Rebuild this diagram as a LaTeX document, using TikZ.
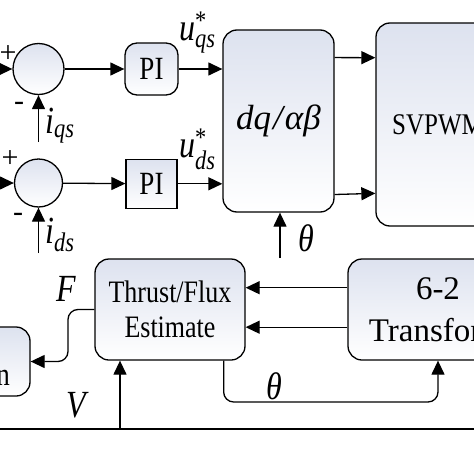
\documentclass[tikz,border=0pt]{standalone}
\usepackage{amsmath}
\usepackage{graphicx}
\usepackage{fontspec}
\setmainfont{Liberation Serif}
\usetikzlibrary{arrows.meta, positioning, calc}
\definecolor{boxtop}{HTML}{DDE2EF}
\newcommand{\tallt}[1]{\scalebox{1}[1.2]{#1}}
\tikzstyle{block} = [rectangle, draw, line width=1.3pt, rounded corners=14pt, top color=boxtop, bottom color=white, align=center, inner sep=0pt]
\tikzstyle{sumnode} = [circle, draw, line width=1.3pt, top color=boxtop, bottom color=white, inner sep=0pt]
\tikzstyle{arrow} = [line width=1.3pt, -{Triangle[length=14pt, width=13pt]}]
\tikzstyle{wire} = [line width=1.3pt]
\tikzstyle{sign} = [font=\fontsize{30}{34}\selectfont, inner sep=0pt]
\tikzstyle{varlabel} = [font=\fontsize{32}{36}\selectfont, inner sep=0pt]

\begin{document}
\begin{tikzpicture}[x=1pt, y=-1pt]

        \useasboundingbox (0,0) rectangle (474,474);
        \clip (0,0) rectangle (474,474);

        % Summing junctions and PI controllers
        \node (sumq) [sumnode, minimum size=51pt] at (38.5,69) {};
        \node (sumd) [sumnode, minimum size=48pt] at (38.5,183) {};
        \node (piq) [block, rounded corners=12pt, minimum width=53pt, minimum height=52pt, font=\fontsize{27}{31}\selectfont] at (151.5,69) {\tallt{PI}};
        \node (pid) [block, sharp corners, minimum width=51pt, minimum height=49pt, below=63pt of piq, font=\fontsize{27}{31}\selectfont] {\tallt{PI}};

        % Transformation and modulation
        \node (dqab) [block, minimum width=111pt, minimum height=182pt, font=\fontsize{35}{38}\selectfont] at (278.5,121) {\itshape dq\kern2pt/\kern2ptαβ};
        \node (svpwm) [block, minimum width=124pt, minimum height=203pt, font=\fontsize{25}{30}\selectfont] at (438,124.5) {\tallt{SVPWM}};

        % Estimator row
        \node (thrust) [block, minimum width=150pt, minimum height=101pt, font=\fontsize{26}{35}\selectfont] at (170,309.5) {\tallt{Thrust/Flux}\\\tallt{Estimate}};
        \node (trans62) [block, minimum width=180pt, minimum height=101pt, font=\fontsize{33}{42}\selectfont] at (438,309.5) {6-2\\Transform};
        \node (mover) [block, minimum width=116pt, minimum height=69pt] at (-28,361.5) {};
        \node (moverlab) [anchor=base east, font=\fontsize{27}{30}\selectfont, inner sep=0pt] at (10,385) {\tallt{n}};

        % Free ends
        \coordinate (inq) at (-20,69);
        \coordinate (ind) at (-20,183);
        \coordinate (iqsin) at (38.5,142);
        \coordinate (idsin) at (38.5,253);
        \coordinate (thdq) at (280,258);
        \coordinate (thout) at ([xshift=-22pt]thrust.south east);
        \coordinate (loopy) at (0,402);
        \coordinate (busl) at (-10,429);
        \coordinate (busr) at (484,429);
        \coordinate (vtap) at (120,429);
        \coordinate (fbend) at (68,0);

        % Signs and signal labels
        \node (plusq) [sign] at (8,54) {+};
        \node (minusq) [sign] at (19,106) {-};
        \node (plusd) [sign] at (10,159) {+};
        \node (minusd) [sign] at (18,217) {-};
        \node (iqslab) [varlabel, anchor=base west] at (45,133) {\tallt{$\textit{i}_{\textit{qs}}$}};
        \node (idslab) [varlabel, anchor=base west] at (45,243) {\tallt{$\textit{i}_{\textit{ds}}$}};
        \node (uqslab) [varlabel, anchor=base west] at (179,40) {\tallt{$\textit{u}^{\text{*}}_{\textit{qs}}$}};
        \node (udslab) [varlabel, anchor=base west] at (179,157) {\tallt{$\textit{u}^{\text{*}}_{\textit{ds}}$}};
        \node (thdqlab) [varlabel] at (306,238) {\tallt{\itshape θ}};
        \node (thlooplab) [varlabel] at (274,386) {\tallt{\itshape θ}};
        \node (flab) [varlabel] at (66,289) {\tallt{\itshape F}};
        \node (vlab) [varlabel] at (76,405) {\tallt{\itshape V}};

        % Arrows - current loops
        \draw [arrow] (inq) -- (sumq);
        \draw [arrow] (ind) -- (sumd);
        \draw [arrow] (iqsin) -- (sumq);
        \draw [arrow] (idsin) -- (sumd);
        \draw [arrow] (sumq) -- (piq);
        \draw [arrow] (sumd) -- (pid);
        \draw [arrow] (piq) -- (piq -| dqab.west);
        \draw [arrow] (pid) -- (pid -| dqab.west);

        % Arrows - dq/alpha-beta to SVPWM
        \draw [arrow] ($(dqab.north east)!0.154!(dqab.south east)$) -- ($(svpwm.north west)!0.173!(svpwm.south west)$);
        \draw [arrow] ($(dqab.north east)!0.901!(dqab.south east)$) -- ($(svpwm.north west)!0.837!(svpwm.south west)$);
        \draw [arrow] (thdq) -- (thdq |- dqab.south);

        % Arrows - estimator
        \draw [arrow] ($(trans62.north west)!0.287!(trans62.south west)$) -- ($(thrust.north east)!0.287!(thrust.south east)$);
        \draw [arrow] ($(trans62.north west)!0.673!(trans62.south west)$) -- ($(thrust.north east)!0.673!(thrust.south east)$);
        \draw [arrow, rounded corners=10pt] (thout) |- (loopy -| trans62.south) -- (trans62.south); % theta feedback
        \draw [arrow, rounded corners=10pt] (thrust.west) -| (fbend |- mover.east) -- (mover.east);

        % Bus line and speed
        \draw [wire] (busl) -- (busr);
        \draw [arrow] (vtap) -- (vtap |- thrust.south);

    \end{tikzpicture}
\end{document}
